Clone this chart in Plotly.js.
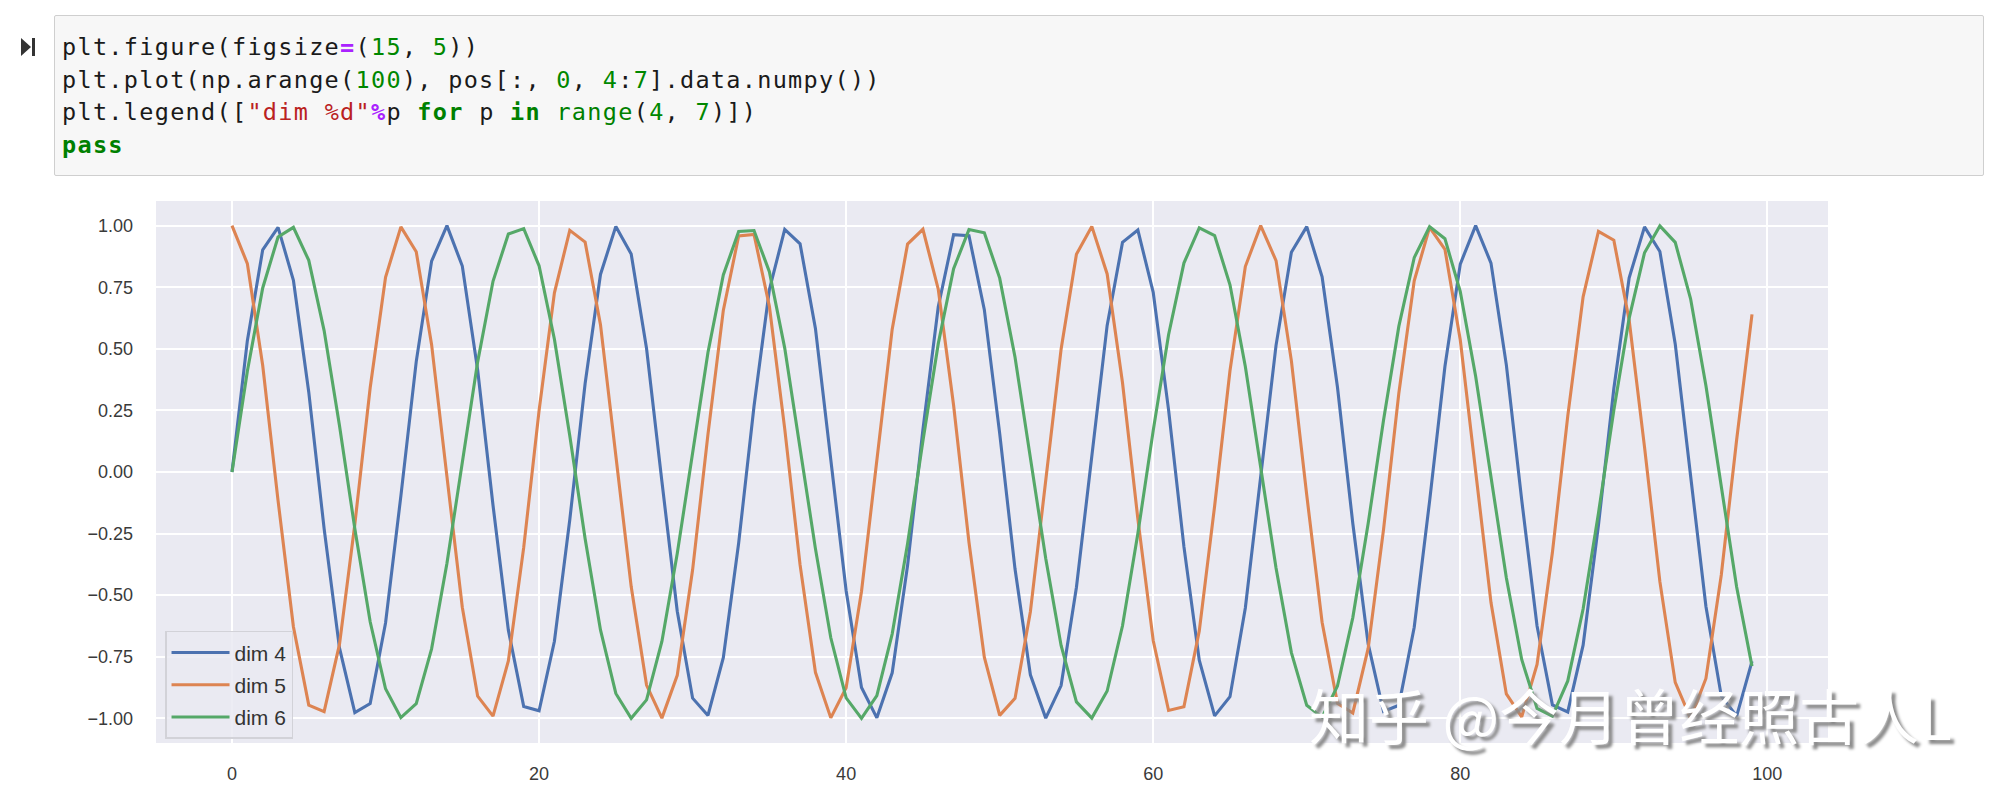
<!DOCTYPE html>
<html>
<head>
<meta charset="utf-8">
<script src="https://cdn.plot.ly/plotly-3.0.1.min.js"></script>
<style>
  html, body { margin: 0; padding: 0; background: #ffffff; }
  body { width: 1999px; height: 799px; position: relative; overflow: hidden; }
  #chart { position: absolute; left: 0; top: 0; width: 1999px; height: 799px; }
  #cell {
    position: absolute; left: 54px; top: 15px; width: 1928px; height: 159px;
    background: #f7f7f7; border: 1px solid #cfcfcf; border-radius: 2px; z-index: 2;
    box-sizing: content-box;
  }
  #cell pre {
    margin: 0; position: absolute; left: 7px; top: 15px;
    font-family: "DejaVu Sans Mono", monospace; font-size: 23.5px; letter-spacing: 1.3px;
    line-height: 32.7px; color: #1a1a1a;
  }
  .op { color: #AA22FF; font-weight: bold; }
  .num { color: #008800; }
  .str { color: #BA2121; }
  .kw { color: #008000; font-weight: bold; }
  .bi { color: #008000; }
  #run { position: absolute; left: 20px; top: 37px; z-index: 3; }
</style>
</head>
<body>
<div id="chart"></div>
<svg id="run" width="16" height="20" viewBox="0 0 16 20">
  <polygon points="1,1 11,10 1,19" fill="#333"/>
  <rect x="12" y="1" width="3" height="18" fill="#333"/>
</svg>
<div id="cell"><pre>plt.figure(figsize<span class="op">=</span>(<span class="num">15</span>, <span class="num">5</span>))
plt.plot(np.arange(<span class="num">100</span>), pos[:, <span class="num">0</span>, <span class="num">4</span>:<span class="num">7</span>].data.numpy())
plt.legend([<span class="str">"dim %d"</span><span class="op">%</span>p <span class="kw">for</span> p <span class="kw">in</span> <span class="bi">range</span>(<span class="num">4</span>, <span class="num">7</span>)])
<span class="kw">pass</span></pre></div>
<script>
// x positions 0..99
const positions = [0,1,2,3,4,5,6,7,8,9,10,11,12,13,14,15,16,17,18,19,20,21,22,23,24,25,26,27,28,29,30,31,32,33,34,35,36,37,38,39,40,41,42,43,44,45,46,47,48,49,50,51,52,53,54,55,56,57,58,59,60,61,62,63,64,65,66,67,68,69,70,71,72,73,74,75,76,77,78,79,80,81,82,83,84,85,86,87,88,89,90,91,92,93,94,95,96,97,98,99];

const dim4 = [0.000,0.533,0.902,0.993,0.778,0.324,-0.230,-0.714,-0.977,-0.940,
  -0.613,-0.097,0.448,0.856,1.000,0.836,0.414,-0.135,-0.642,-0.952,
  -0.969,-0.687,-0.194,0.359,0.802,0.997,0.885,0.501,-0.038,-0.565,
  -0.918,-0.988,-0.754,-0.288,0.267,0.740,0.985,0.926,0.583,0.060,
  -0.482,-0.875,-0.998,-0.815,-0.380,0.172,0.671,0.963,0.959,0.659,
  0.157,-0.394,-0.823,-0.999,-0.867,-0.468,0.075,0.595,0.932,0.982,
  0.729,0.252,-0.303,-0.764,-0.990,-0.912,-0.552,-0.022,0.514,0.892,
  0.996,0.792,0.345,-0.209,-0.698,-0.972,-0.947,-0.630,-0.119,0.428,
  0.844,1.000,0.848,0.435,-0.113,-0.625,-0.945,-0.974,-0.703,-0.215,
  0.338,0.788,0.995,0.895,0.520,-0.015,-0.546,-0.909,-0.991,-0.769];

const dim5 = [1.000,0.846,0.432,-0.116,-0.628,-0.946,-0.973,-0.700,-0.212,0.342,
  0.790,0.995,0.894,0.517,-0.019,-0.549,-0.910,-0.991,-0.767,-0.306,
  0.249,0.727,0.981,0.933,0.598,0.079,-0.465,-0.865,-0.999,-0.825,
  -0.397,0.153,0.656,0.958,0.964,0.673,0.175,-0.377,-0.813,-0.998,
  -0.876,-0.485,0.056,0.580,0.925,0.985,0.742,0.270,-0.285,-0.752,
  -0.988,-0.919,-0.567,-0.041,0.498,0.884,0.997,0.804,0.362,-0.190,
  -0.684,-0.968,-0.953,-0.645,-0.138,0.411,0.834,1.000,0.858,0.451,
  -0.094,-0.610,-0.939,-0.978,-0.716,-0.234,0.321,0.776,0.993,0.904,
  0.536,0.003,-0.530,-0.901,-0.994,-0.781,-0.327,0.227,0.711,0.977,
  0.941,0.616,0.101,-0.445,-0.854,-1.000,-0.838,-0.418,0.131,0.640];

const dim6 = [0.000,0.409,0.747,0.954,0.993,0.859,0.574,0.189,-0.230,-0.608,
  -0.880,-0.997,-0.940,-0.718,-0.370,0.042,0.447,0.774,0.966,0.988,
  0.837,0.539,0.147,-0.271,-0.641,-0.899,-1.000,-0.925,-0.688,-0.331,
  0.084,0.485,0.800,0.976,0.980,0.813,0.503,0.105,-0.311,-0.673,
  -0.917,-1.000,-0.908,-0.657,-0.291,0.126,0.521,0.825,0.984,0.971,
  0.787,0.466,0.063,-0.351,-0.704,-0.933,-0.999,-0.889,-0.624,-0.250,
  0.168,0.557,0.848,0.991,0.960,0.760,0.428,0.021,-0.390,-0.733,
  -0.947,-0.995,-0.869,-0.591,-0.209,0.210,0.592,0.870,0.996,0.947,
  0.732,0.389,-0.022,-0.429,-0.761,-0.960,-0.991,-0.848,-0.556,-0.167,
  0.251,0.625,0.890,0.999,0.932,0.703,0.350,-0.064,-0.467,-0.788];

const seriesNames = ["dim 4", "dim 5", "dim 6"];
const seriesColors = ["#4C72B0", "#DD8452", "#55A868"];
const xTickVals = [0, 20, 40, 60, 80, 100];
const yTickVals = [-1.0, -0.75, -0.5, -0.25, 0.0, 0.25, 0.5, 0.75, 1.0];
const watermark = "知乎 @今月曾经照古人L";

const allSeries = [dim4, dim5, dim6];
const traces = allSeries.map((ys, i) => ({
  x: positions, y: ys, type: "scatter", mode: "lines",
  name: seriesNames[i], legendgroup: "g" + i,
  line: { color: seriesColors[i], width: 3.1 }
}));

const tickFont = { family: "Liberation Sans, Arial, sans-serif", size: 18, color: "#3a3a3a" };

const layout = {
  width: 1999, height: 799,
  margin: { l: 156, r: 171, t: 201, b: 56, pad: 0 },
  paper_bgcolor: "rgba(0,0,0,0)",
  plot_bgcolor: "#EAEAF2",
  showlegend: true,
  legend: {
    x: 0.0054, y: 0.207, xanchor: "left", yanchor: "top",
    bgcolor: "rgba(234,234,242,0.85)", bordercolor: "#d2d2d8", borderwidth: 1.5,
    font: { family: "Liberation Sans, Arial, sans-serif", size: 21, color: "#333" },
    itemwidth: 58, tracegroupgap: 2
  },
  xaxis: {
    range: [-4.95, 103.95], tickmode: "array", tickvals: xTickVals,
    showgrid: true, gridcolor: "#ffffff", gridwidth: 2,
    zeroline: false, showline: false, ticks: "", ticklabelstandoff: 18,
    tickfont: tickFont
  },
  yaxis: {
    range: [-1.1, 1.1], tickmode: "array", tickvals: yTickVals, tickformat: ".2f",
    showgrid: true, gridcolor: "#ffffff", gridwidth: 2,
    zeroline: false, showline: false, ticks: "", ticklabelstandoff: 22,
    tickfont: tickFont
  },
  annotations: [{
    text: watermark, xref: "paper", yref: "paper",
    x: 0.882, y: 0.055, xanchor: "center", yanchor: "middle", showarrow: false,
    font: { family: "Noto Sans CJK SC", size: 60, color: "#ffffff", shadow: "4px 4px 3px #8a8a8a" }
  }]
};

Plotly.newPlot("chart", traces, layout, { displayModeBar: false, staticPlot: true });
</script>
</body>
</html>
